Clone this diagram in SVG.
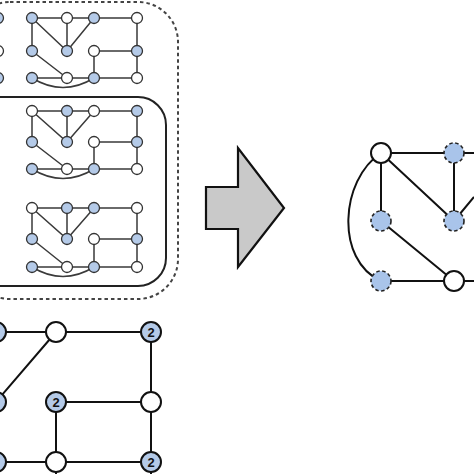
<svg xmlns="http://www.w3.org/2000/svg" width="474" height="474" viewBox="0 0 474 474">
<style>
.se{stroke:#3a3a3a;stroke-width:1.5;fill:none}
.sw{fill:#ffffff;stroke:#333;stroke-width:1.3}
.sb{fill:#b4cae8;stroke:#333;stroke-width:1.3}
.be{stroke:#111;stroke-width:2;fill:none}
.bw{fill:#ffffff;stroke:#111;stroke-width:2}
.bb{fill:#b4cae8;stroke:#111;stroke-width:2}
.bd{fill:#a9c4ea;stroke:#222;stroke-width:1.6;stroke-dasharray:3.5 2.5}
.lbl{font-family:"Liberation Sans",Arial,sans-serif;font-weight:bold;font-size:13px;fill:#111;text-anchor:middle}
</style>
<rect width="474" height="474" fill="#ffffff"/>
<g id="frames">
<rect x="-30" y="2" width="208" height="297" rx="40" fill="none" stroke="#444" stroke-width="2" stroke-dasharray="3.5 3"/>
<rect x="-30" y="97" width="196" height="189" rx="28" fill="none" stroke="#222" stroke-width="2"/>
</g>
<g id="connectors">
<g class="se">
<!-- graph 1 -->
<path d="M32,18H137V78M32,18V51M32,18L67,51V18M94,18L67,51M94,51H137M94,51V78M32,51L67,78M32,78H137M32,78Q63,97 94,78"/>
<!-- graph 2 -->
<path d="M32,111H137V169M32,111V142M32,111L67,142V111M94,111L67,142M94,142H137M94,142V169M32,142L67,169M32,169H137M32,169Q63,188 94,169"/>
<!-- graph 3 -->
<path d="M32,208H137V267M32,208V239M32,208L67,239V208M94,208L67,239M94,239H137M94,239V267M32,239L67,267M32,267H137M32,267Q63,286 94,267"/>
</g>
<g class="be">
<path d="M-4,332H151V462M56,332L-4,402M56,402H151M56,402V474M-4,462H151M151,462V474"/>
<path d="M381,153H474M381,153V221M381,153L454,221M454,153V221M454,221L474,197M381,221L454,281M381,281H474M381,153C340,180 335,260 381,281"/>
</g>
</g>
<g id="arrow">
<polygon points="206,187 238,187 238,148 284,208 238,267 238,229 206,229" fill="#c9c9c9" stroke="#111" stroke-width="2.2" stroke-linejoin="miter"/>
</g>
<g id="g1-nodes">
<circle cx="-2" cy="18" r="5.5" class="sb"/><circle cx="-2" cy="51" r="5.5" class="sw"/><circle cx="-2" cy="78" r="5.5" class="sb"/>
<circle id="g1a" cx="32" cy="18" r="5.5" class="sb"/><circle cx="67" cy="18" r="5.5" class="sw"/><circle cx="94" cy="18" r="5.5" class="sb"/><circle cx="137" cy="18" r="5.5" class="sw"/>
<circle cx="32" cy="51" r="5.5" class="sb"/><circle cx="67" cy="51" r="5.5" class="sb"/><circle cx="94" cy="51" r="5.5" class="sw"/><circle cx="137" cy="51" r="5.5" class="sb"/>
<circle cx="32" cy="78" r="5.5" class="sb"/><circle cx="67" cy="78" r="5.5" class="sw"/><circle cx="94" cy="78" r="5.5" class="sb"/><circle cx="137" cy="78" r="5.5" class="sw"/>
</g>
<g id="g2-nodes">
<circle cx="32" cy="111" r="5.5" class="sw"/><circle cx="67" cy="111" r="5.5" class="sb"/><circle cx="94" cy="111" r="5.5" class="sw"/><circle cx="137" cy="111" r="5.5" class="sb"/>
<circle cx="32" cy="142" r="5.5" class="sb"/><circle cx="67" cy="142" r="5.5" class="sb"/><circle cx="94" cy="142" r="5.5" class="sw"/><circle cx="137" cy="142" r="5.5" class="sb"/>
<circle cx="32" cy="169" r="5.5" class="sb"/><circle cx="67" cy="169" r="5.5" class="sw"/><circle cx="94" cy="169" r="5.5" class="sb"/><circle cx="137" cy="169" r="5.5" class="sw"/>
</g>
<g id="g3-nodes">
<circle cx="32" cy="208" r="5.5" class="sw"/><circle cx="67" cy="208" r="5.5" class="sb"/><circle cx="94" cy="208" r="5.5" class="sb"/><circle cx="137" cy="208" r="5.5" class="sw"/>
<circle cx="32" cy="239" r="5.5" class="sb"/><circle cx="67" cy="239" r="5.5" class="sb"/><circle cx="94" cy="239" r="5.5" class="sw"/><circle cx="137" cy="239" r="5.5" class="sb"/>
<circle cx="32" cy="267" r="5.5" class="sb"/><circle cx="67" cy="267" r="5.5" class="sw"/><circle cx="94" cy="267" r="5.5" class="sb"/><circle cx="137" cy="267" r="5.5" class="sw"/>
</g>
<g id="bottom-nodes">
<circle cx="-4" cy="332" r="10" class="bb"/><circle cx="-4" cy="402" r="10" class="bb"/><circle cx="-4" cy="462" r="10" class="bb"/>
<g id="b1"><circle cx="56" cy="332" r="10" class="bw"/></g>
<g id="b2"><circle cx="151" cy="332" r="10" class="bb"/><text x="151" y="337" class="lbl">2</text></g>
<g id="b3"><circle cx="56" cy="402" r="10" class="bb"/><text x="56" y="407" class="lbl">2</text></g>
<g id="b4"><circle cx="151" cy="402" r="10" class="bw"/></g>
<g id="b5"><circle cx="56" cy="462" r="10" class="bw"/></g>
<g id="b6"><circle cx="151" cy="462" r="10" class="bb"/><text x="151" y="467" class="lbl">2</text></g>
</g>
<g id="right-nodes">
<circle id="r1" cx="381" cy="153" r="10" class="bw"/>
<circle id="r2" cx="454" cy="153" r="10" class="bd"/>
<circle id="r3" cx="381" cy="221" r="10" class="bd"/>
<circle id="r4" cx="454" cy="221" r="10" class="bd"/>
<circle id="r5" cx="381" cy="281" r="10" class="bd"/>
<circle id="r6" cx="454" cy="281" r="10" class="bw"/>
</g>
</svg>
